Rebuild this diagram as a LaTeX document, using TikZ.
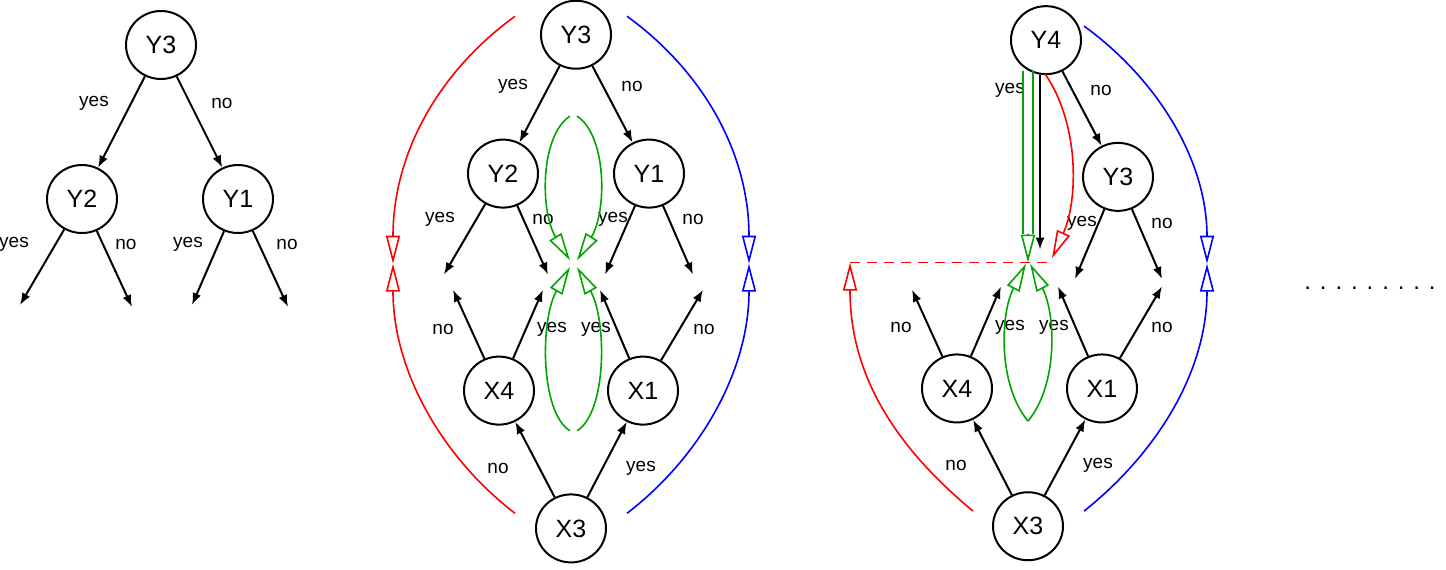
\documentclass[tikz,border=0pt]{standalone}
\usepackage{fontspec}
\setmainfont{Liberation Sans}
\usetikzlibrary{arrows.meta,shapes.geometric}
\begin{document}
\begin{tikzpicture}[x=0.5pt,y=-0.5pt,
  nd/.style={draw,ellipse,line width=1pt,minimum width=35pt,minimum height=34pt,inner sep=0pt,font=\fontsize{12.5}{13}\selectfont},
  lb/.style={font=\fontsize{9.5}{11}\selectfont},
  e/.style={line width=1pt,-{Latex[length=6pt,width=4.5pt]}},
  oa/.style={line width=0.8pt,-{Triangle[open,length=14pt,width=7pt]}},
  rd/.style={oa,red},
  bl/.style={oa,blue},
  gr/.style={oa,green!65!black}]
\useasboundingbox (0,0) rectangle (1446,569);
% ---------- panel 1
\node[nd] (a3) at (161,45) {Y3};
\node[nd] (a2) at (82,199) {Y2};
\node[nd] (a1) at (238,199) {Y1};
\coordinate (a2l) at (20,305); \coordinate (a2r) at (132,307);
\coordinate (a1l) at (192,305); \coordinate (a1r) at (288,307);
\draw[e] (a3) -- (a2); \draw[e] (a3) -- (a1);
\draw[e] (a2) -- (a2l); \draw[e] (a2) -- (a2r);
\draw[e] (a1) -- (a1l); \draw[e] (a1) -- (a1r);
\node[lb] (l1) at (94,103) {yes}; \node[lb] (l2) at (222,103) {no};
\node[lb] (l3) at (14,244) {yes}; \node[lb] (l4) at (126,244) {no};
\node[lb] (l5) at (188,244) {yes}; \node[lb] (l6) at (287,244) {no};
\begin{scope}[yscale=1.085]
% ---------- panel 2
\node[nd] (b3) at (576,32) {Y3};
\node[nd] (b2) at (503,160) {Y2};
\node[nd] (b1) at (649,160) {Y1};
\node[nd] (bx4) at (499,360) {X4};
\node[nd] (bx1) at (643,360) {X1};
\node[nd] (bx3) at (571,487) {X3};
\draw[e] (b3) -- (b2); \draw[e] (b3) -- (b1);
\coordinate (p1) at (444,253); \coordinate (p2) at (548,253);
\coordinate (p3) at (605,253); \coordinate (p4) at (693,253);
\coordinate (q1) at (453,267); \coordinate (q2) at (543,267);
\coordinate (q3) at (600,267); \coordinate (q4) at (703,267);
\draw[e] (b2) -- (p1); \draw[e] (b2) -- (p2);
\draw[e] (b1) -- (p3); \draw[e] (b1) -- (p4);
\draw[e] (bx4) -- (q1); \draw[e] (bx4) -- (q2);
\draw[e] (bx1) -- (q3); \draw[e] (bx1) -- (q4);
\draw[e] (bx3) -- (bx4); \draw[e] (bx3) -- (bx1);
\node[lb] at (513,80) {yes}; \node[lb] at (632,80) {no};
\node[lb] at (440,202) {yes}; \node[lb] at (543,202) {no};
\node[lb] at (613,202) {yes}; \node[lb] at (693,202) {no};
\node[lb] at (443,304) {no}; \node[lb] at (552,304) {yes};
\node[lb] at (596,304) {yes}; \node[lb] at (704,304) {no};
\node[lb] at (498,432) {no}; \node[lb] at (641,432) {yes};
% red / blue arcs
\coordinate (r1) at (515,15); \coordinate (rm) at (393,243); \coordinate (r2) at (515,473);
\draw[rd] (r1) .. controls (440,65) and (393,140) .. (rm);
\draw[rd] (r2) .. controls (440,420) and (393,340) .. (rm);
\coordinate (s1) at (627,15); \coordinate (sm) at (749,243); \coordinate (s2) at (627,473);
\draw[bl] (s1) .. controls (702,65) and (749,140) .. (sm);
\draw[bl] (s2) .. controls (702,420) and (749,340) .. (sm);
% green loops
\coordinate (g1) at (570,107); \coordinate (g2) at (570,240); \coordinate (g3) at (570,397); \coordinate (g4) at (570,246);
\draw[gr] (g1) .. controls (540,125) and (540,195) .. (g2);
\draw[gr] (g3) .. controls (540,380) and (540,295) .. (g4);
\coordinate (h1) at (577,107); \coordinate (h2) at (577,240); \coordinate (h3) at (577,397); \coordinate (h4) at (577,246);
\draw[gr] (h1) .. controls (607,125) and (607,195) .. (h2);
\draw[gr] (h3) .. controls (607,380) and (607,295) .. (h4);
% ---------- panel 3
\node[nd] (c4) at (1046,37) {Y4};
\node[nd] (c3) at (1118,163) {Y3};
\node[nd] (cx4) at (957,358) {X4};
\node[nd] (cx1) at (1102,358) {X1};
\node[nd] (cx3) at (1028,485) {X3};
\coordinate (t0) at (1040,230);
\draw[e] (c4.south -| t0) -- (t0);
\draw[e] (c4) -- (c3);
\coordinate (u1) at (1075,257); \coordinate (u2) at (1162,257);
\coordinate (v1) at (912,267); \coordinate (v2) at (1001,264);
\coordinate (v3) at (1058,264); \coordinate (v4) at (1162,264);
\draw[e] (c3) -- (u1); \draw[e] (c3) -- (u2);
\draw[e] (cx4) -- (v1); \draw[e] (cx4) -- (v2);
\draw[e] (cx1) -- (v3); \draw[e] (cx1) -- (v4);
\draw[e] (cx3) -- (cx4); \draw[e] (cx3) -- (cx1);
\node[lb] at (1010,83) {yes}; \node[lb] at (1101,83) {no};
\node[lb] at (1082,206) {yes}; \node[lb] at (1162,206) {no};
\node[lb] at (901,302) {no}; \node[lb] at (1010,302) {yes};
\node[lb] at (1054,302) {yes}; \node[lb] at (1162,302) {no};
\node[lb] at (956,429) {no}; \node[lb] at (1098,429) {yes};
% green double arrow
\coordinate (w0) at (1028,65); \coordinate (w1) at (1028,216); \coordinate (w2) at (1028,242);
\draw[green!65!black,line width=0.8pt] ([xshift=-2.5]w0) -- ([xshift=-2.5]w1);
\draw[green!65!black,line width=0.8pt] ([xshift=2.5]w0) -- ([xshift=2.5]w1);
\draw[gr] (w1) -- (w2);
% red curve from Y4
\coordinate (z0) at (1045,68); \coordinate (z1) at (1052,238);
\draw[rd] (z0) .. controls (1080,115) and (1078,185) .. (z1);
% dashed red line
\coordinate (d0) at (850,242); \coordinate (d1) at (1054,242);
\draw[red,line width=0.8pt,dash pattern=on 5pt off 3.5pt] (d0) -- (d1);
\coordinate (rr1) at (973,471);
\draw[rd] (rr1) .. controls (900,415) and (850,350) .. (d0);
% green V loop
\coordinate (k0) at (1028,388); \coordinate (k1) at (1026,243); \coordinate (k2) at (1030,243);
\draw[gr] (k0) .. controls (998,355) and (1000,290) .. (k1);
\draw[gr] (k0) .. controls (1058,355) and (1056,290) .. (k2);
% blue arc
\coordinate (m1) at (1084,24); \coordinate (mm) at (1207,243); \coordinate (m2) at (1084,471);
\draw[bl] (m1) .. controls (1160,75) and (1207,150) .. (mm);
\draw[bl] (m2) .. controls (1160,415) and (1207,340) .. (mm);
\end{scope}
% dots
\node[font=\fontsize{12}{12}\selectfont] (dots) at (1370,288) {. . . . . . . . .};
\end{tikzpicture}
\end{document}
